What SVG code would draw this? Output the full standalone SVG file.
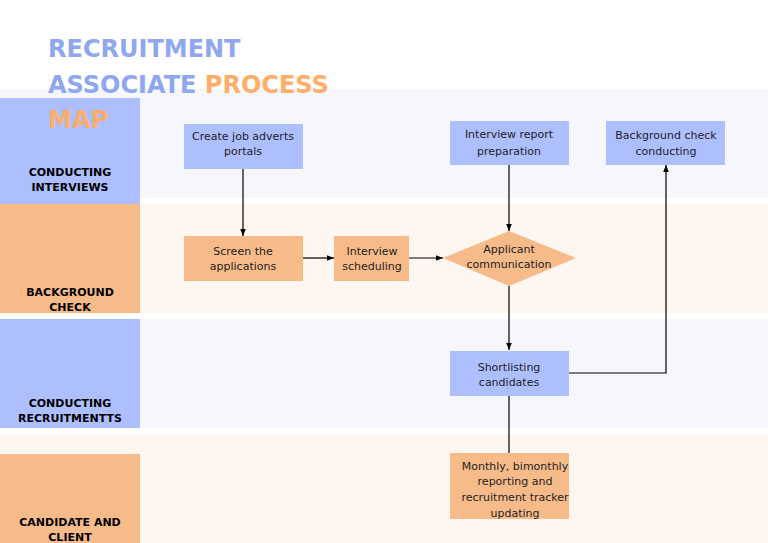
<svg xmlns="http://www.w3.org/2000/svg" width="768" height="543" viewBox="0 0 768 543">
<style>
text{font-family:"DejaVu Sans",sans-serif;}
.t{font-size:24px;font-weight:bold;}
.lab{font-size:11px;font-weight:bold;fill:#000;text-anchor:middle;}
.n{font-size:11px;fill:#222;text-anchor:middle;}
.b{fill:#adbfff;}.o{fill:#f7bb8a;}
.c{stroke:#000;stroke-width:1.2;fill:none;marker-end:url(#a);}
</style>
<defs><marker id="a" viewBox="0 0 10 10" refX="10" refY="5" markerWidth="6" markerHeight="6" orient="auto"><path d="M0,1 L10,5 L0,9 z" fill="#000"/></marker></defs>
<rect width="768" height="543" fill="#fff"/>
<g id="lanes">
<rect x="0" y="89" width="768" height="109" fill="#f6f7fd"/>
<rect x="0" y="204" width="768" height="109" fill="#fdf6f1"/>
<rect x="0" y="319" width="768" height="109" fill="#f6f7fd"/>
<rect x="0" y="434" width="768" height="109" fill="#fdf6f1"/>
<rect class="b" x="0" y="98" width="140" height="106"/>
<rect class="o" x="0" y="204" width="140" height="109"/>
<rect class="b" x="0" y="319" width="140" height="109"/>
<rect class="o" x="0" y="454" width="140" height="89"/>
<text class="lab" x="70" y="176">CONDUCTING</text><text class="lab" x="70" y="191">INTERVIEWS</text>
<text class="lab" x="70" y="296">BACKGROUND</text><text class="lab" x="70" y="311">CHECK</text>
<text class="lab" x="70" y="407">CONDUCTING</text><text class="lab" x="70" y="422">RECRUITMENTTS</text>
<text class="lab" x="70" y="526">CANDIDATE AND</text><text class="lab" x="70" y="541">CLIENT</text>
</g>
<g id="title">
<text class="t" x="48" y="57" fill="#8fa6f0">RECRUITMENT</text>
<text class="t" x="48" y="93" fill="#8fa6f0">ASSOCIATE <tspan fill="#ffad6b">PROCESS</tspan></text>
<text class="t" x="48" y="128" fill="#ffad6b">MAP</text>
</g>
<g id="connectors">
<path class="c" d="M243,169 V236"/>
<path class="c" d="M303,258 H334"/>
<path class="c" d="M409,258 H443"/>
<path class="c" d="M509,165 V231"/>
<path class="c" d="M509,286 V350"/>
<path class="c" d="M569,373 H666 V165"/>
<path class="c" d="M509,396 V466"/>
</g>
<g id="n1"><rect class="b" x="184" y="124" width="119" height="45"/><text class="n" x="243" y="140">Create job adverts</text><text class="n" x="243" y="155">portals</text></g>
<g id="n2"><rect class="b" x="450" y="121" width="119" height="44"/><text class="n" x="509" y="138">Interview report</text><text class="n" x="509" y="155">preparation</text></g>
<g id="n3"><rect class="b" x="606" y="121" width="119" height="44"/><text class="n" x="666" y="139">Background check</text><text class="n" x="666" y="155">conducting</text></g>
<g id="n4"><rect class="o" x="184" y="236" width="119" height="45"/><text class="n" x="243" y="255">Screen the</text><text class="n" x="243" y="270">applications</text></g>
<g id="n5"><rect class="o" x="334" y="236" width="75" height="45"/><text class="n" x="372" y="255">Interview</text><text class="n" x="372" y="270">scheduling</text></g>
<g id="n6"><polygon class="o" points="509,231 576,258 509,286 443,258"/><text class="n" x="509" y="253">Applicant</text><text class="n" x="509" y="268">communication</text></g>
<g id="n7"><rect class="b" x="450" y="351" width="119" height="45"/><text class="n" x="509" y="371">Shortlisting</text><text class="n" x="509" y="386">candidates</text></g>
<g id="n8"><rect class="o" x="450" y="453" width="119" height="66"/><text class="n" x="515" y="470">Monthly, bimonthly</text><text class="n" x="515" y="485">reporting and</text><text class="n" x="515" y="501">recruitment tracker</text><text class="n" x="515" y="517">updating</text></g>
</svg>
